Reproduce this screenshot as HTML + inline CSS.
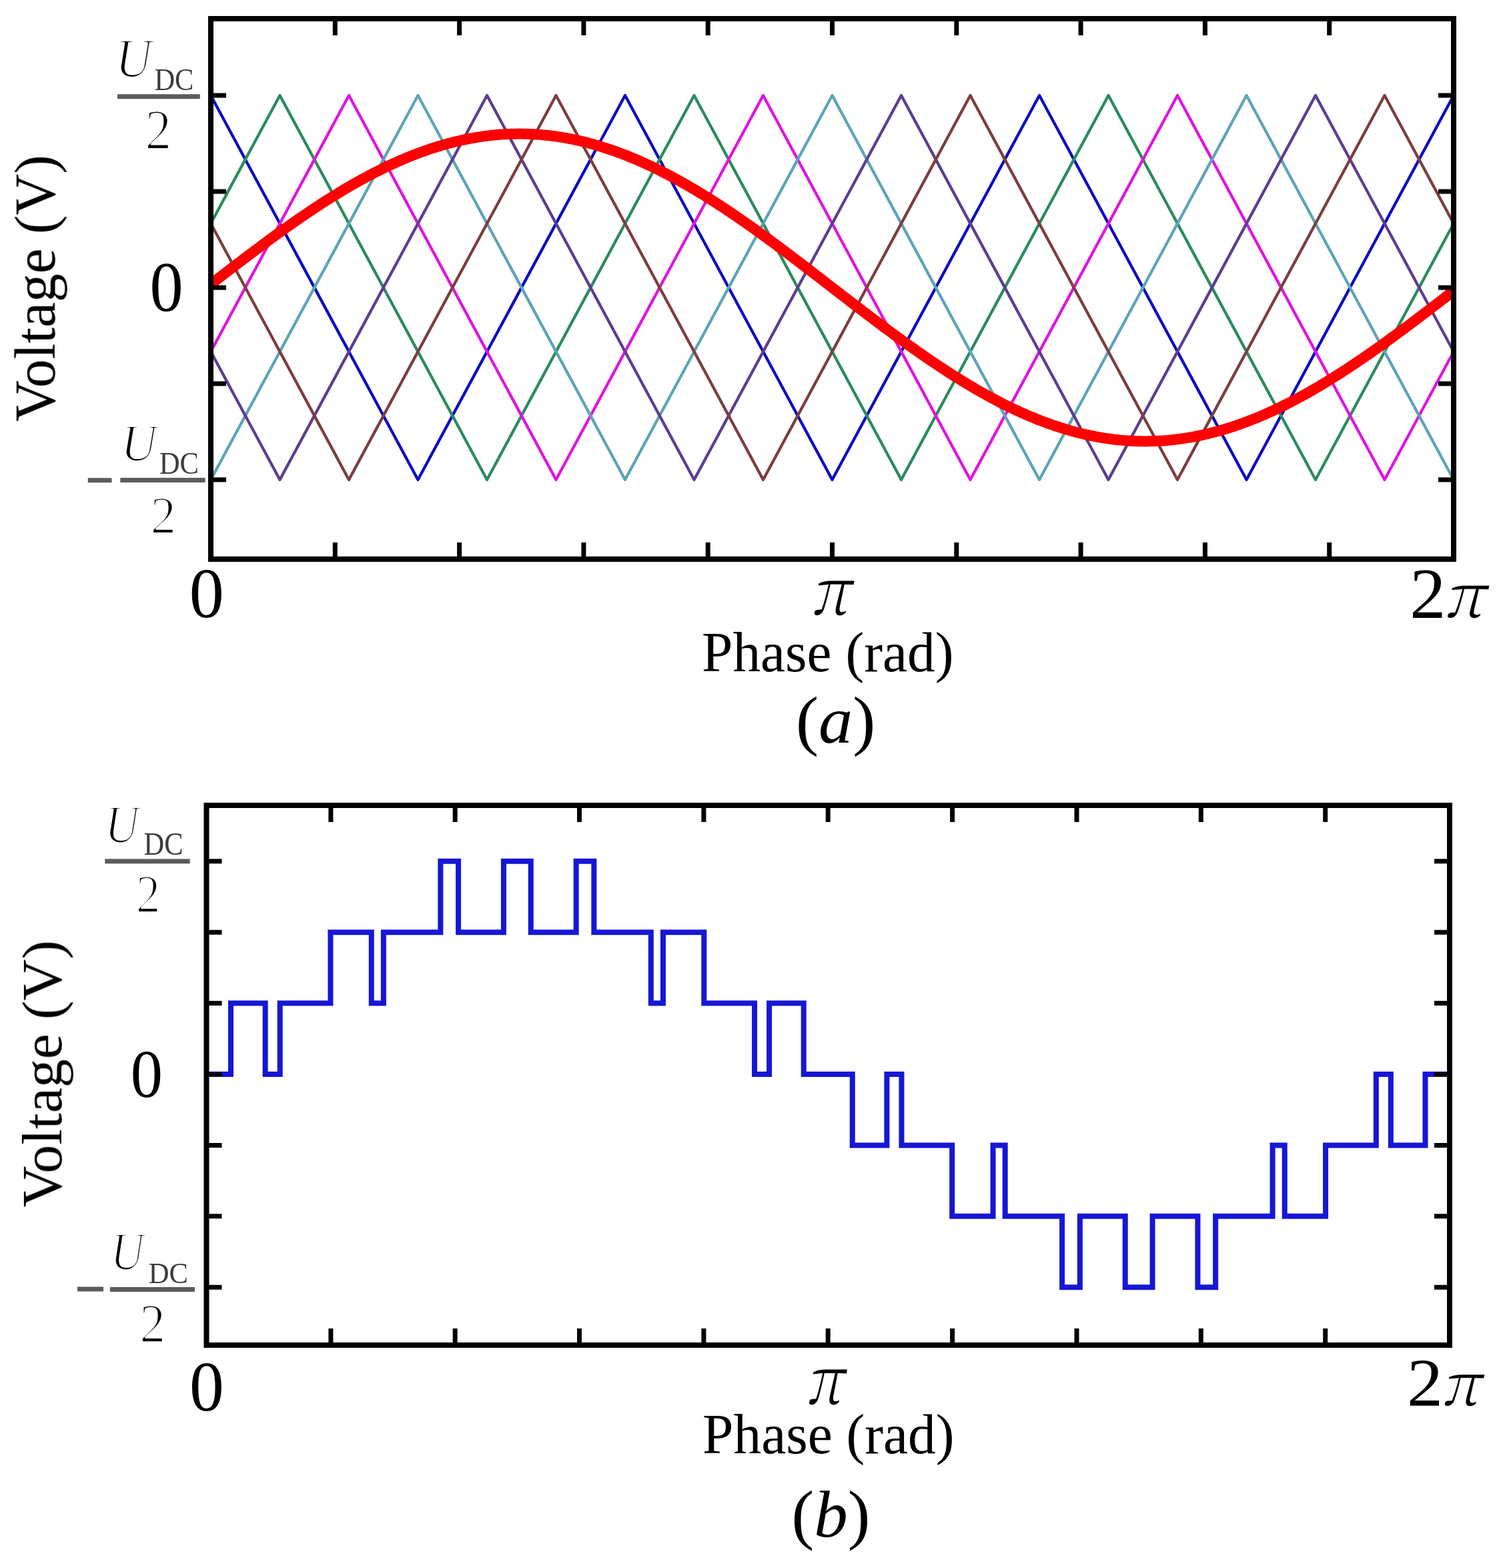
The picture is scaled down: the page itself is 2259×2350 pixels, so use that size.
<!DOCTYPE html>
<html><head><meta charset="utf-8"><title>Phase-shifted carrier PWM</title>
<style>html,body{margin:0;padding:0;background:#fff;width:2259px;height:2350px;overflow:hidden}</style>
</head><body>
<svg width="2259" height="2350" viewBox="0 0 2259 2350" style="display:block"><rect x="0" y="0" width="2259" height="2350" fill="#fff"/><path d="M316.00,143.00 L626.50,719.00 L937.00,143.00 L1247.50,719.00 L1558.00,143.00 L1868.50,719.00 L2179.00,143.00" fill="none" stroke="#0c0cc4" stroke-width="4.3" stroke-linejoin="round"/><path d="M316.00,335.00 L419.50,143.00 L730.00,719.00 L1040.50,143.00 L1351.00,719.00 L1661.50,143.00 L1972.00,719.00 L2179.00,335.00" fill="none" stroke="#2b8b5e" stroke-width="4.3" stroke-linejoin="round"/><path d="M316.00,527.00 L523.00,143.00 L833.50,719.00 L1144.00,143.00 L1454.50,719.00 L1765.00,143.00 L2075.50,719.00 L2179.00,527.00" fill="none" stroke="#e014e0" stroke-width="4.3" stroke-linejoin="round"/><path d="M316.00,719.00 L626.50,143.00 L937.00,719.00 L1247.50,143.00 L1558.00,719.00 L1868.50,143.00 L2179.00,719.00" fill="none" stroke="#5ea4b6" stroke-width="4.3" stroke-linejoin="round"/><path d="M316.00,527.00 L419.50,719.00 L730.00,143.00 L1040.50,719.00 L1351.00,143.00 L1661.50,719.00 L1972.00,143.00 L2179.00,527.00" fill="none" stroke="#5c3e8e" stroke-width="4.3" stroke-linejoin="round"/><path d="M316.00,335.00 L523.00,719.00 L833.50,143.00 L1144.00,719.00 L1454.50,143.00 L1765.00,719.00 L2075.50,143.00 L2179.00,335.00" fill="none" stroke="#7c3e3e" stroke-width="4.3" stroke-linejoin="round"/><defs><clipPath id="ca"><rect x="316" y="28" width="1863" height="810"/></clipPath></defs><path d="M316.00,425.98 L319.11,423.59 L322.21,421.20 L325.31,418.80 L328.42,416.41 L331.52,414.02 L334.63,411.63 L337.74,409.24 L340.84,406.86 L343.94,404.48 L347.05,402.10 L350.15,399.72 L353.26,397.35 L356.37,394.98 L359.47,392.62 L362.57,390.26 L365.68,387.90 L368.78,385.55 L371.89,383.21 L375.00,380.86 L378.10,378.53 L381.20,376.20 L384.31,373.87 L387.42,371.56 L390.52,369.24 L393.62,366.94 L396.73,364.64 L399.83,362.35 L402.94,360.07 L406.05,357.79 L409.15,355.52 L412.25,353.26 L415.36,351.01 L418.47,348.77 L421.57,346.54 L424.68,344.31 L427.78,342.10 L430.88,339.89 L433.99,337.69 L437.10,335.51 L440.20,333.33 L443.31,331.17 L446.41,329.01 L449.51,326.87 L452.62,324.74 L455.73,322.62 L458.83,320.51 L461.94,318.41 L465.04,316.33 L468.14,314.26 L471.25,312.20 L474.36,310.15 L477.46,308.12 L480.56,306.10 L483.67,304.09 L486.77,302.10 L489.88,300.12 L492.99,298.16 L496.09,296.21 L499.19,294.27 L502.30,292.35 L505.40,290.44 L508.51,288.55 L511.62,286.68 L514.72,284.82 L517.83,282.97 L520.93,281.14 L524.03,279.33 L527.14,277.54 L530.25,275.76 L533.35,274.00 L536.46,272.25 L539.56,270.52 L542.66,268.81 L545.77,267.12 L548.88,265.44 L551.98,263.79 L555.09,262.15 L558.19,260.53 L561.29,258.92 L564.40,257.34 L567.50,255.77 L570.61,254.23 L573.71,252.70 L576.82,251.19 L579.92,249.71 L583.03,248.24 L586.13,246.79 L589.24,245.36 L592.35,243.95 L595.45,242.56 L598.56,241.19 L601.66,239.84 L604.76,238.52 L607.87,237.21 L610.98,235.93 L614.08,234.66 L617.18,233.42 L620.29,232.20 L623.39,231.00 L626.50,229.82 L629.61,228.66 L632.71,227.53 L635.82,226.41 L638.92,225.32 L642.02,224.25 L645.13,223.21 L648.24,222.18 L651.34,221.18 L654.44,220.20 L657.55,219.25 L660.65,218.31 L663.76,217.40 L666.87,216.52 L669.97,215.65 L673.08,214.81 L676.18,214.00 L679.29,213.20 L682.39,212.43 L685.50,211.69 L688.60,210.97 L691.70,210.27 L694.81,209.59 L697.91,208.94 L701.02,208.31 L704.12,207.71 L707.23,207.13 L710.34,206.58 L713.44,206.05 L716.55,205.54 L719.65,205.06 L722.75,204.60 L725.86,204.17 L728.96,203.76 L732.07,203.38 L735.17,203.02 L738.28,202.69 L741.38,202.38 L744.49,202.09 L747.60,201.83 L750.70,201.60 L753.81,201.39 L756.91,201.20 L760.01,201.04 L763.12,200.91 L766.23,200.79 L769.33,200.71 L772.43,200.65 L775.54,200.61 L778.64,200.60 L781.75,200.61 L784.86,200.65 L787.96,200.72 L791.07,200.80 L794.17,200.92 L797.27,201.06 L800.38,201.22 L803.49,201.41 L806.59,201.62 L809.69,201.86 L812.80,202.12 L815.90,202.41 L819.01,202.72 L822.12,203.05 L825.22,203.41 L828.33,203.80 L831.43,204.21 L834.53,204.65 L837.64,205.10 L840.75,205.59 L843.85,206.10 L846.96,206.63 L850.06,207.19 L853.16,207.77 L856.27,208.37 L859.38,209.00 L862.48,209.65 L865.59,210.33 L868.69,211.03 L871.79,211.76 L874.90,212.50 L878.00,213.28 L881.11,214.07 L884.22,214.89 L887.32,215.73 L890.42,216.60 L893.53,217.49 L896.63,218.40 L899.74,219.34 L902.85,220.29 L905.95,221.27 L909.05,222.28 L912.16,223.30 L915.26,224.35 L918.37,225.42 L921.48,226.52 L924.58,227.63 L927.68,228.77 L930.79,229.93 L933.89,231.11 L937.00,232.31 L940.11,233.53 L943.21,234.78 L946.32,236.04 L949.42,237.33 L952.52,238.64 L955.63,239.97 L958.74,241.32 L961.84,242.69 L964.95,244.08 L968.05,245.49 L971.15,246.92 L974.26,248.37 L977.37,249.84 L980.47,251.33 L983.58,252.84 L986.68,254.37 L989.78,255.92 L992.89,257.49 L996.00,259.07 L999.10,260.68 L1002.21,262.30 L1005.31,263.94 L1008.41,265.60 L1011.52,267.28 L1014.62,268.97 L1017.73,270.68 L1020.84,272.41 L1023.94,274.16 L1027.05,275.92 L1030.15,277.70 L1033.26,279.50 L1036.36,281.31 L1039.47,283.14 L1042.57,284.99 L1045.67,286.85 L1048.78,288.73 L1051.88,290.62 L1054.99,292.53 L1058.10,294.45 L1061.20,296.39 L1064.30,298.34 L1067.41,300.31 L1070.51,302.29 L1073.62,304.28 L1076.72,306.29 L1079.83,308.31 L1082.93,310.34 L1086.04,312.39 L1089.14,314.45 L1092.25,316.52 L1095.36,318.61 L1098.46,320.71 L1101.57,322.82 L1104.67,324.94 L1107.78,327.07 L1110.88,329.22 L1113.99,331.37 L1117.09,333.54 L1120.20,335.71 L1123.30,337.90 L1126.40,340.10 L1129.51,342.30 L1132.62,344.52 L1135.72,346.74 L1138.83,348.98 L1141.93,351.22 L1145.03,353.47 L1148.14,355.73 L1151.24,358.00 L1154.35,360.28 L1157.45,362.56 L1160.56,364.86 L1163.66,367.15 L1166.77,369.46 L1169.88,371.77 L1172.98,374.09 L1176.09,376.42 L1179.19,378.75 L1182.30,381.08 L1185.40,383.42 L1188.51,385.77 L1191.61,388.12 L1194.72,390.48 L1197.82,392.84 L1200.92,395.21 L1204.03,397.57 L1207.13,399.95 L1210.24,402.32 L1213.35,404.70 L1216.45,407.08 L1219.55,409.47 L1222.66,411.85 L1225.76,414.24 L1228.87,416.63 L1231.97,419.03 L1235.08,421.42 L1238.18,423.81 L1241.29,426.21 L1244.39,428.60 L1247.50,431.00 L1250.61,433.40 L1253.71,435.79 L1256.82,438.19 L1259.92,440.58 L1263.03,442.97 L1266.13,445.37 L1269.24,447.76 L1272.34,450.15 L1275.45,452.53 L1278.55,454.92 L1281.65,457.30 L1284.76,459.68 L1287.87,462.05 L1290.97,464.43 L1294.08,466.79 L1297.18,469.16 L1300.28,471.52 L1303.39,473.88 L1306.49,476.23 L1309.60,478.58 L1312.70,480.92 L1315.81,483.25 L1318.91,485.58 L1322.02,487.91 L1325.12,490.23 L1328.23,492.54 L1331.34,494.85 L1334.44,497.14 L1337.55,499.44 L1340.65,501.72 L1343.76,504.00 L1346.86,506.27 L1349.96,508.53 L1353.07,510.78 L1356.17,513.02 L1359.28,515.26 L1362.38,517.48 L1365.49,519.70 L1368.60,521.90 L1371.70,524.10 L1374.81,526.29 L1377.91,528.46 L1381.02,530.63 L1384.12,532.78 L1387.22,534.93 L1390.33,537.06 L1393.43,539.18 L1396.54,541.29 L1399.64,543.39 L1402.75,545.48 L1405.86,547.55 L1408.96,549.61 L1412.07,551.66 L1415.17,553.69 L1418.28,555.71 L1421.38,557.72 L1424.48,559.71 L1427.59,561.69 L1430.69,563.66 L1433.80,565.61 L1436.90,567.55 L1440.01,569.47 L1443.12,571.38 L1446.22,573.27 L1449.33,575.15 L1452.43,577.01 L1455.54,578.86 L1458.64,580.69 L1461.74,582.50 L1464.85,584.30 L1467.95,586.08 L1471.06,587.84 L1474.16,589.59 L1477.27,591.32 L1480.38,593.03 L1483.48,594.72 L1486.59,596.40 L1489.69,598.06 L1492.80,599.70 L1495.90,601.32 L1499.01,602.93 L1502.11,604.51 L1505.21,606.08 L1508.32,607.63 L1511.42,609.16 L1514.53,610.67 L1517.63,612.16 L1520.74,613.63 L1523.85,615.08 L1526.95,616.51 L1530.06,617.92 L1533.16,619.31 L1536.27,620.68 L1539.37,622.03 L1542.47,623.36 L1545.58,624.67 L1548.68,625.96 L1551.79,627.22 L1554.89,628.47 L1558.00,629.69 L1561.11,630.89 L1564.21,632.07 L1567.32,633.23 L1570.42,634.37 L1573.53,635.48 L1576.63,636.58 L1579.73,637.65 L1582.84,638.70 L1585.94,639.72 L1589.05,640.73 L1592.15,641.71 L1595.26,642.66 L1598.37,643.60 L1601.47,644.51 L1604.58,645.40 L1607.68,646.27 L1610.79,647.11 L1613.89,647.93 L1616.99,648.72 L1620.10,649.50 L1623.20,650.24 L1626.31,650.97 L1629.41,651.67 L1632.52,652.35 L1635.62,653.00 L1638.73,653.63 L1641.84,654.23 L1644.94,654.81 L1648.05,655.37 L1651.15,655.90 L1654.26,656.41 L1657.36,656.90 L1660.46,657.35 L1663.57,657.79 L1666.67,658.20 L1669.78,658.59 L1672.88,658.95 L1675.99,659.28 L1679.10,659.59 L1682.20,659.88 L1685.31,660.14 L1688.41,660.38 L1691.52,660.59 L1694.62,660.78 L1697.72,660.94 L1700.83,661.08 L1703.93,661.20 L1707.04,661.28 L1710.14,661.35 L1713.25,661.39 L1716.36,661.40 L1719.46,661.39 L1722.57,661.35 L1725.67,661.29 L1728.78,661.21 L1731.88,661.09 L1734.98,660.96 L1738.09,660.80 L1741.19,660.61 L1744.30,660.40 L1747.40,660.17 L1750.51,659.91 L1753.62,659.62 L1756.72,659.31 L1759.83,658.98 L1762.93,658.62 L1766.04,658.24 L1769.14,657.83 L1772.24,657.40 L1775.35,656.94 L1778.45,656.46 L1781.56,655.95 L1784.66,655.42 L1787.77,654.87 L1790.88,654.29 L1793.98,653.69 L1797.09,653.06 L1800.19,652.41 L1803.30,651.73 L1806.40,651.03 L1809.51,650.31 L1812.61,649.57 L1815.71,648.80 L1818.82,648.00 L1821.92,647.19 L1825.03,646.35 L1828.13,645.48 L1831.24,644.60 L1834.35,643.69 L1837.45,642.75 L1840.56,641.80 L1843.66,640.82 L1846.77,639.82 L1849.87,638.79 L1852.97,637.75 L1856.08,636.68 L1859.18,635.59 L1862.29,634.47 L1865.39,633.34 L1868.50,632.18 L1871.61,631.00 L1874.71,629.80 L1877.82,628.58 L1880.92,627.34 L1884.03,626.07 L1887.13,624.79 L1890.23,623.48 L1893.34,622.16 L1896.44,620.81 L1899.55,619.44 L1902.65,618.05 L1905.76,616.64 L1908.87,615.21 L1911.97,613.76 L1915.08,612.29 L1918.18,610.81 L1921.29,609.30 L1924.39,607.77 L1927.49,606.23 L1930.60,604.66 L1933.70,603.08 L1936.81,601.47 L1939.91,599.85 L1943.02,598.21 L1946.12,596.56 L1949.23,594.88 L1952.34,593.19 L1955.44,591.48 L1958.55,589.75 L1961.65,588.00 L1964.76,586.24 L1967.86,584.46 L1970.96,582.67 L1974.07,580.86 L1977.17,579.03 L1980.28,577.18 L1983.38,575.32 L1986.49,573.45 L1989.60,571.56 L1992.70,569.65 L1995.81,567.73 L1998.91,565.79 L2002.02,563.84 L2005.12,561.88 L2008.22,559.90 L2011.33,557.91 L2014.43,555.90 L2017.54,553.88 L2020.64,551.85 L2023.75,549.80 L2026.86,547.74 L2029.96,545.67 L2033.07,543.59 L2036.17,541.49 L2039.28,539.38 L2042.38,537.26 L2045.48,535.13 L2048.59,532.99 L2051.69,530.83 L2054.80,528.67 L2057.90,526.49 L2061.01,524.31 L2064.11,522.11 L2067.22,519.90 L2070.32,517.69 L2073.43,515.46 L2076.53,513.23 L2079.64,510.99 L2082.74,508.74 L2085.85,506.48 L2088.95,504.21 L2092.06,501.93 L2095.16,499.65 L2098.27,497.36 L2101.38,495.06 L2104.48,492.76 L2107.59,490.44 L2110.69,488.13 L2113.80,485.80 L2116.90,483.47 L2120.01,481.14 L2123.11,478.79 L2126.22,476.45 L2129.32,474.10 L2132.43,471.74 L2135.53,469.38 L2138.64,467.02 L2141.74,464.65 L2144.85,462.28 L2147.95,459.90 L2151.06,457.52 L2154.16,455.14 L2157.27,452.76 L2160.37,450.37 L2163.47,447.98 L2166.58,445.59 L2169.68,443.20 L2172.79,440.80 L2175.89,438.41 L2179.00,436.02" fill="none" stroke="#ff0000" stroke-width="16" stroke-linejoin="round" clip-path="url(#ca)"/><rect x="316" y="28" width="1863" height="810" fill="none" stroke="#000" stroke-width="8"/><path d="M316,143.0H339M2179,143.0H2156M316,287.0H339M2179,287.0H2156M316,431.0H339M2179,431.0H2156M316,575.0H339M2179,575.0H2156M316,719.0H339M2179,719.0H2156M502.3,838V813M502.3,28V53M688.6,838V813M688.6,28V53M874.9,838V813M874.9,28V53M1061.2,838V813M1061.2,28V53M1247.5,838V813M1247.5,28V53M1433.8,838V813M1433.8,28V53M1620.1,838V813M1620.1,28V53M1806.4,838V813M1806.4,28V53M1992.7,838V813M1992.7,28V53" stroke="#000" stroke-width="7"/><path d="M309.5,1610.00 H346.01 V1503.60 H397.64 V1610.00 H419.69 V1503.60 H495.44 V1397.20 H556.78 V1503.60 H574.92 V1397.20 H660.36 V1290.80 H687.09 V1397.20 H754.96 V1290.80 H795.78 V1397.20 H863.66 V1290.80 H890.38 V1397.20 H975.82 V1503.60 H993.96 V1397.20 H1055.31 V1503.60 H1131.06 V1610.00 H1153.10 V1503.60 H1204.74 V1610.00 H1277.76 V1716.40 H1329.39 V1610.00 H1351.44 V1716.40 H1427.19 V1822.80 H1488.53 V1716.40 H1506.67 V1822.80 H1592.11 V1929.20 H1618.84 V1822.80 H1686.71 V1929.20 H1727.53 V1822.80 H1795.41 V1929.20 H1822.13 V1822.80 H1907.57 V1716.40 H1925.71 V1822.80 H1987.06 V1716.40 H2062.81 V1610.00 H2084.85 V1716.40 H2136.49 V1610.00 H2173" fill="none" stroke="#1616d6" stroke-width="8"/><rect x="309.5" y="1207" width="1863.5" height="809" fill="none" stroke="#000" stroke-width="8"/><path d="M309.5,1290.8H332.5M2173,1290.8H2150M309.5,1397.2H332.5M2173,1397.2H2150M309.5,1503.6H332.5M2173,1503.6H2150M309.5,1610.0H332.5M2173,1610.0H2150M309.5,1716.4H332.5M2173,1716.4H2150M309.5,1822.8H332.5M2173,1822.8H2150M309.5,1929.2H332.5M2173,1929.2H2150M495.9,2016V1991M495.9,1207V1232M682.2,2016V1991M682.2,1207V1232M868.5,2016V1991M868.5,1207V1232M1054.9,2016V1991M1054.9,1207V1232M1241.2,2016V1991M1241.2,1207V1232M1427.6,2016V1991M1427.6,1207V1232M1614.0,2016V1991M1614.0,1207V1232M1800.3,2016V1991M1800.3,1207V1232M1986.7,2016V1991M1986.7,1207V1232" stroke="#000" stroke-width="7"/><defs><filter id="thin" x="-10%" y="-10%" width="120%" height="120%"><feMorphology operator="erode" radius="0.5"/><feGaussianBlur stdDeviation="0.6"/></filter><filter id="soft" x="-10%" y="-10%" width="120%" height="120%"><feGaussianBlur stdDeviation="0.6"/></filter></defs><g fill="#000" filter="url(#thin)"><text transform="translate(173.24,114.98) scale(0.7507,0.8242)" font-size="100" font-family="'Liberation Serif', serif" font-style="italic">U</text><text transform="translate(217.66,222.80) scale(0.7850,0.8369)" font-size="100" font-family="'Liberation Serif', serif">2</text><text transform="translate(181.28,690.23) scale(0.7464,0.7727)" font-size="100" font-family="'Liberation Serif', serif" font-style="italic">U</text><text transform="translate(225.65,798.00) scale(0.7625,0.7923)" font-size="100" font-family="'Liberation Serif', serif">2</text><text transform="translate(157.33,1263.10) scale(0.7072,0.8045)" font-size="100" font-family="'Liberation Serif', serif" font-style="italic">U</text><text transform="translate(204.10,1366.80) scale(0.7250,0.8000)" font-size="100" font-family="'Liberation Serif', serif">2</text><text transform="translate(165.74,1903.19) scale(0.6957,0.8076)" font-size="100" font-family="'Liberation Serif', serif" font-style="italic">U</text><text transform="translate(209.42,2011.00) scale(0.7700,0.8154)" font-size="100" font-family="'Liberation Serif', serif">2</text></g><g fill="#000" filter="url(#soft)"><text fill="#3a3a3a" transform="translate(231.43,135.26) scale(0.4246,0.4701)" font-size="100" font-family="'Liberation Serif', serif">DC</text><rect x="176" y="141.2" width="123.80000000000001" height="7" fill="#5c5c5c"/><text fill="#3a3a3a" transform="translate(238.72,710.07) scale(0.4269,0.4627)" font-size="100" font-family="'Liberation Serif', serif">DC</text><rect x="180.3" y="716.1" width="127.30000000000001" height="7" fill="#5c5c5c"/><rect x="131.8" y="716.3" width="35.69999999999999" height="7" fill="#5c5c5c"/><text transform="translate(224.39,466.16) scale(1.0024,1.0687)" font-size="100" font-family="'Liberation Serif', serif">0</text><text transform="translate(81.42,631.85) rotate(-90) scale(0.8550,0.8611)" font-size="100" font-family="'Liberation Serif', serif">Voltage (V)</text><text transform="translate(283.84,925.30) scale(1.0405,1.0507)" font-size="100" font-family="'Liberation Serif', serif">0</text><text transform="translate(1215.33,920.61) scale(0.8779,0.9885)" font-size="100" font-family="'Noto Serif CJK SC', 'Liberation Serif', serif" font-weight="300" font-style="italic">π</text><text transform="translate(2113.17,925.50) scale(1.0825,1.0846)" font-size="100" font-family="'Liberation Serif', serif">2</text><text transform="translate(2164.31,924.58) scale(0.9147,0.9231)" font-size="100" font-family="'Noto Serif CJK SC', 'Liberation Serif', serif" font-weight="300" font-style="italic">π</text><text transform="translate(1052.00,1005.66) scale(0.8342,0.8544)" font-size="100" font-family="'Liberation Serif', serif">Phase (rad)</text><text transform="translate(1192.91,1113.19) scale(1.0231,0.9911)" font-size="100" font-family="'Liberation Serif', serif">(<tspan font-style="italic">a</tspan>)</text><text fill="#3a3a3a" transform="translate(215.53,1281.04) scale(0.4246,0.4776)" font-size="100" font-family="'Liberation Serif', serif">DC</text><rect x="157.3" y="1287.3" width="127.39999999999998" height="7" fill="#5c5c5c"/><text fill="#3a3a3a" transform="translate(222.72,1923.10) scale(0.4262,0.4478)" font-size="100" font-family="'Liberation Serif', serif">DC</text><rect x="164.8" y="1929.0" width="127.19999999999999" height="7" fill="#5c5c5c"/><rect x="116" y="1928.5" width="39" height="7" fill="#5c5c5c"/><text transform="translate(195.64,1644.06) scale(0.9643,1.0209)" font-size="100" font-family="'Liberation Serif', serif">0</text><text transform="translate(92.03,1809.36) rotate(-90) scale(0.8561,0.8556)" font-size="100" font-family="'Liberation Serif', serif">Voltage (V)</text><text transform="translate(284.06,2114.39) scale(1.0357,1.0537)" font-size="100" font-family="'Liberation Serif', serif">0</text><text transform="translate(1207.79,2103.79) scale(0.8353,1.0077)" font-size="100" font-family="'Noto Serif CJK SC', 'Liberation Serif', serif" font-weight="300" font-style="italic">π</text><text transform="translate(2108.98,2106.90) scale(1.0800,1.0231)" font-size="100" font-family="'Liberation Serif', serif">2</text><text transform="translate(2160.26,2106.00) scale(0.8735,0.8962)" font-size="100" font-family="'Noto Serif CJK SC', 'Liberation Serif', serif" font-weight="300" font-style="italic">π</text><text transform="translate(1053.10,2178.26) scale(0.8342,0.8544)" font-size="100" font-family="'Liberation Serif', serif">Phase (rad)</text><text transform="translate(1186.46,2303.31) scale(1.0111,1.0044)" font-size="100" font-family="'Liberation Serif', serif">(<tspan font-style="italic">b</tspan>)</text></g></svg>
</body></html>
